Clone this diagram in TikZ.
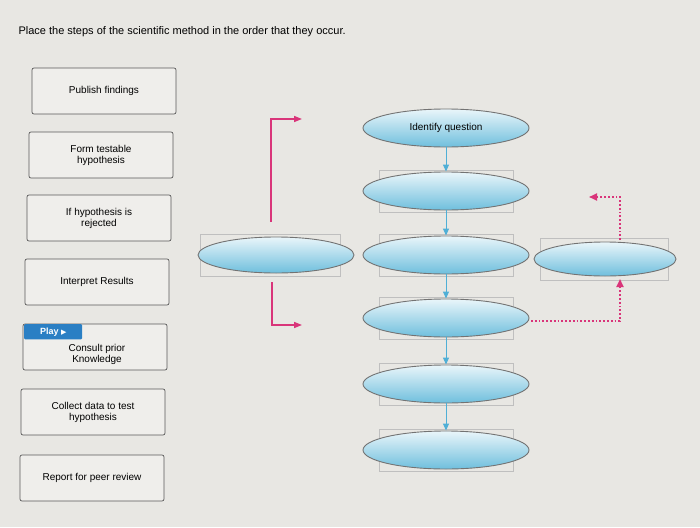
\documentclass[tikz,border=0pt]{standalone}
\usepackage{fontspec}
\setmainfont{Liberation Sans}
\newfontfamily\symf{DejaVu Sans}
\usetikzlibrary{shapes.geometric,arrows.meta}
\definecolor{bg}{HTML}{E8E7E3}
\definecolor{ell}{HTML}{6FBFDD}
\definecolor{pinkc}{HTML}{D9357A}
\definecolor{arr}{HTML}{4FAFD6}
\definecolor{playb}{HTML}{2A7FC4}
\begin{document}
\begin{tikzpicture}[x=1pt,y=-1pt,
  card/.style={draw=black!65,line width=0.7pt,rounded corners=2pt,fill=bg!70!white,minimum width=144pt,minimum height=46pt,align=center,font=\fontsize{10}{11}\selectfont},
  oval/.style={ellipse,draw=black!55,line width=0.9pt,top color=ell!15!white,bottom color=ell,minimum width=166pt,minimum height=38pt,font=\fontsize{10}{11}\selectfont},
  slot/.style={draw=black!25,line width=0.5pt,minimum width=134pt,minimum height=42pt},
  flow/.style={arr,line width=1pt,-{Triangle[length=7pt,width=6pt]}},
  pk/.style={pinkc,line width=1.5pt,-{Triangle[length=8pt,width=6pt]}},
  pkd/.style={pinkc,line width=1.8pt,dotted,-{Triangle[length=8pt,width=7pt]}}]
\fill[bg] (0,0) rectangle (700,527);
\useasboundingbox (0,0) rectangle (700,527);
\node[anchor=west,font=\fontsize{11}{13}\selectfont] (title) at (15,32) {Place the steps of the scientific method in the order that they occur.};
\node[card] (c1) at (104,91) {Publish findings};
\node[card] (c2) at (101,155) {Form testable\\hypothesis};
\node[card] (c3) at (99,218) {If hypothesis is\\rejected};
\node[card] (c4) at (97,282) {Interpret Results};
\node[card] (c5) at (95,347) {};
\node[align=center,font=\fontsize{10}{11}\selectfont] (c5t) at (97,354) {Consult prior\\Knowledge};
\node[fill=playb,text=white,rounded corners=1pt,anchor=north west,minimum width=58pt,minimum height=15pt,font=\bfseries\fontsize{9}{10}\selectfont] (play) at (24,324) {Play {\symf\fontsize{7}{8}\selectfont ▶}};
\node[card] (c6) at (93,412) {Collect data to test\\hypothesis};
\node[card] (c7) at (92,478) {Report for peer review};
% slots
\node[slot] (s2) at (446,191) {};
\node[slot] (s3) at (446,255) {};
\node[slot] (s4) at (446,318) {};
\node[slot] (s5) at (446,384) {};
\node[slot] (s6) at (446,450) {};
\node[slot,minimum width=140pt] (sl) at (270,255) {};
\node[slot,minimum width=128pt] (sr) at (604,259) {};
% ovals
\node[oval] (e1) at (446,128) {Identify question};
\node[oval] (e2) at (446,191) {};
\node[oval] (e3) at (446,255) {};
\node[oval] (e4) at (446,318) {};
\node[oval] (e5) at (446,384) {};
\node[oval] (e6) at (446,450) {};
\node[oval,minimum width=156pt,minimum height=36pt] (el) at (276,255) {};
\node[oval,minimum width=142pt,minimum height=34pt] (er) at (605,259) {};
\foreach \a/\b in {e1/e2,e2/e3,e3/e4,e4/e5,e5/e6} \draw[flow] (\a) -- (\b);
% pink
\coordinate (pa) at (271,222); \coordinate (pb) at (271,119); \coordinate (pc) at (302,119);
\coordinate (pd) at (272,282); \coordinate (pe) at (272,325); \coordinate (pf) at (302,325);
\draw[pk] (pa) -- (pb) -- (pc);
\draw[pk] (pd) -- (pe) -- (pf);
\coordinate (da) at (531,321); \coordinate (db) at (620,321); \coordinate (dc) at (620,279);
\coordinate (dd) at (620,240); \coordinate (de) at (620,197); \coordinate (df) at (589,197);
\draw[pkd] (da) -- (db) -- (dc);
\draw[pkd] (dd) -- (de) -- (df);
\end{tikzpicture}
\end{document}
